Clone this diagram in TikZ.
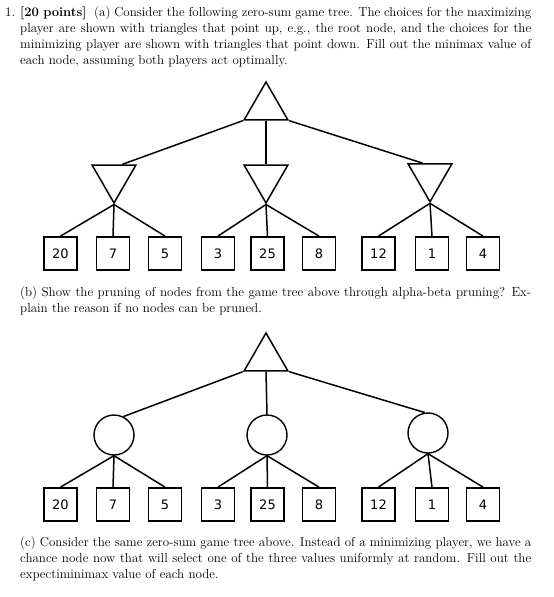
\documentclass[tikz,border=0pt]{standalone}
\usepackage{fontspec}
\newfontfamily\numfont{DejaVu Sans}
\usetikzlibrary{positioning, shapes.geometric}

\tikzset{
  maxnode/.style={draw, regular polygon, regular polygon sides=3,
                  minimum size=50.6pt, inner sep=0pt, line width=1.5pt},
  minnode/.style={maxnode, shape border rotate=180},
  chance/.style={draw, circle, minimum size=40pt, inner sep=0pt, line width=1.4pt},
  leaf/.style={draw, rectangle, minimum width=33pt, minimum height=33pt,
               inner sep=0pt, line width=1.8pt,
               font=\numfont\fontsize{13}{13}\selectfont},
  edge/.style={line width=1.5pt},
  para/.style={anchor=north west, inner sep=0pt, text width=511pt,
               align=justify, font=\fontsize{13}{15.8}\selectfont}
}

\begin{document}
\begin{tikzpicture}[x=1pt, y=1pt]
  \useasboundingbox (0,0) rectangle (554,-597);
  % question text
  \node[para] (partA) at (20,-7) {\llap{\makebox[15pt][l]{1.}}\textbf{[20 points]}\ \ (a) Consider the following zero-sum game tree. The choices for the maximizing\linebreak
    player are shown with triangles that point up, e.g., the root node, and the choices for the\linebreak
    minimizing player are shown with triangles that point down. Fill out the minimax value of\linebreak
    each node, assuming both players act optimally.};
  % minimax tree
  \node[maxnode] (rootA) at (266,-107.3) {};
  \node[minnode] (minA1) at (114,-177.7) {};
  \node[minnode] (minA2) at (266,-177.7) {};
  \node[minnode] (minA3) at (430,-176.5) {};
  \node[leaf] (leafA1) at (60.5,-253.5) {20};
  \node[leaf] (leafA2) at (113,-253.5) {7};
  \node[leaf] (leafA3) at (165,-253.5) {5};
  \node[leaf] (leafA4) at (218,-253.5) {3};
  \node[leaf] (leafA5) at (267.5,-253.5) {25};
  \node[leaf] (leafA6) at (319,-253.5) {8};
  \node[leaf] (leafA7) at (378.5,-253.5) {12};
  \node[leaf] (leafA8) at (432,-253.5) {1};
  \node[leaf] (leafA9) at (483,-253.5) {4};
  \draw[edge] (rootA.corner 2) -- (minA1.58);
  \draw[edge] (rootA.south) -- (minA2.90);
  \draw[edge] (rootA.corner 3) -- (minA3.119);
  \draw[edge] (minA1.corner 1) -- (leafA1.north);
  \draw[edge] (minA1.corner 1) -- (leafA2.north);
  \draw[edge] (minA1.corner 1) -- (leafA3.north);
  \draw[edge] (minA2.corner 1) -- (leafA4.north);
  \draw[edge] (minA2.corner 1) -- (leafA5.north);
  \draw[edge] (minA2.corner 1) -- (leafA6.north);
  \draw[edge] (minA3.corner 1) -- (leafA7.north);
  \draw[edge] (minA3.corner 1) -- (leafA8.north);
  \draw[edge] (minA3.corner 1) -- (leafA9.north);

  \node[para] (partB) at (20,-287) {(b) Show the pruning of nodes from the game tree above through alpha-beta pruning? Ex-\linebreak
    plain the reason if no nodes can be pruned.};
  % expectiminimax tree
  \node[maxnode] (rootB) at (266,-358.3) {};
  \node[chance] (chB1) at (114,-435) {};
  \node[chance] (chB2) at (267,-435) {};
  \node[chance] (chB3) at (428,-433) {};
  \node[leaf] (leafB1) at (60.5,-504.5) {20};
  \node[leaf] (leafB2) at (113,-504.5) {7};
  \node[leaf] (leafB3) at (165,-504.5) {5};
  \node[leaf] (leafB4) at (218,-504.5) {3};
  \node[leaf] (leafB5) at (267.5,-504.5) {25};
  \node[leaf] (leafB6) at (319,-504.5) {8};
  \node[leaf] (leafB7) at (378.5,-504.5) {12};
  \node[leaf] (leafB8) at (432,-504.5) {1};
  \node[leaf] (leafB9) at (483,-504.5) {4};
  \draw[edge] (rootB.corner 2) -- (chB1.63);
  \draw[edge] (rootB.south) -- (chB2.north);
  \draw[edge] (rootB.corner 3) -- (chB3.99);
  \draw[edge] (chB1.south) -- (leafB1.north);
  \draw[edge] (chB1.south) -- (leafB2.north);
  \draw[edge] (chB1.south) -- (leafB3.north);
  \draw[edge] (chB2.south) -- (leafB4.north);
  \draw[edge] (chB2.south) -- (leafB5.north);
  \draw[edge] (chB2.south) -- (leafB6.north);
  \draw[edge] (chB3.south) -- (leafB7.north);
  \draw[edge] (chB3.south) -- (leafB8.north);
  \draw[edge] (chB3.south) -- (leafB9.north);

  \node[para] (partC) at (20,-537) {(c) Consider the same zero-sum game tree above. Instead of a minimizing player, we have a\linebreak
    chance node now that will select one of the three values uniformly at random. Fill out the\linebreak
    expectiminimax value of each node.};
\end{tikzpicture}
\end{document}
